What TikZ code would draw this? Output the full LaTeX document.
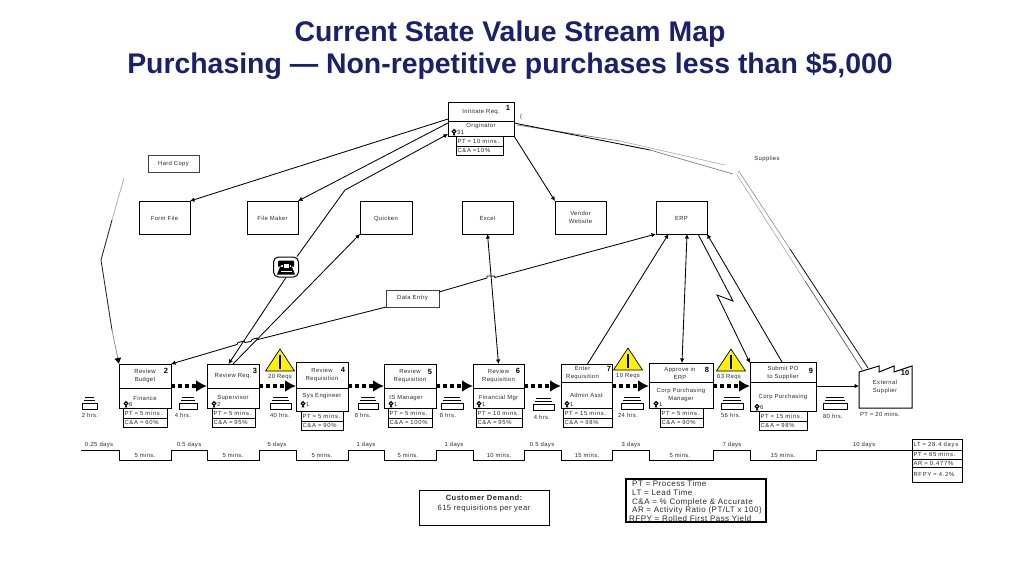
\documentclass[tikz,border=0pt]{standalone}
\usepackage{fontspec}
\setmainfont{Liberation Sans}
\newfontfamily\lbf[LetterSpace=6]{Liberation Sans}
\newfontfamily\ldf[LetterSpace=12]{Liberation Sans}
\newfontfamily\lgf[LetterSpace=6]{Liberation Sans}
\usetikzlibrary{arrows.meta}
\definecolor{navy}{HTML}{1B1F6E}
\definecolor{ink}{HTML}{2A2A2A}
\newcounter{tn}
\tikzset{
  boxst/.style={draw=black,line width=1pt,inner sep=0pt,outer sep=0pt,fill=white},
  thinbox/.style={boxst,draw=black!75,line width=0.7pt},
  lab/.style={font=\lbf\fontsize{5.9}{8}\selectfont,text=ink,align=center,inner sep=0pt},
  num/.style={font=\bfseries\fontsize{7.5}{8}\selectfont,inner sep=0pt},
  opnum/.style={font=\lbf\fontsize{5.9}{8}\selectfont,text=ink,inner sep=0pt},
  dat/.style={boxst,lab,align=left,font=\ldf\fontsize{5.9}{8}\selectfont},
  con/.style={draw=black,line width=0.85pt},
  tip/.style={-{Latex[length=4.5pt,width=4.5pt]}},
  dtip/.style={{Latex[length=4.5pt,width=4.5pt]}-{Latex[length=4.5pt,width=4.5pt]}},
  pushline/.style={draw=black,line width=3.4pt,dash pattern=on 3.6pt off 3.4pt,-{Latex[length=11pt,width=12pt]}},
  warn/.style={draw=black,line width=0.7pt,fill=yellow,line join=round},
  tl/.style={draw=black,line width=0.9pt}
}
% [options]{name}{x1}{y1}{x2}{y2}
\newcommand{\bx}[6][]{\node[boxst,#1,minimum width={(#5-#3)*1pt},minimum height={(#6-#4)*1pt}] (#2) at ({(#3+#5)/2},{(#4+#6)/2}) {};}
% {box}{dx}{dy}{text}
\newcommand{\lb}[4]{\node[lab,xshift=#2pt,yshift=-#3pt] (#1-l) at (#1.center) {#4};}
\newcommand{\tx}[3]{\stepcounter{tn}\node[lab] (t\arabic{tn}) at (#1,#2) {#3};}
\newcommand{\nm}[3]{\stepcounter{tn}\node[num] (t\arabic{tn}) at (#1,#2) {#3};}
% {name}{x1}{y1}{x2}{y2}{text}
\newcommand{\dt}[6]{\node[dat,text width={(#4-#2-3)*1pt},inner xsep=1.5pt,minimum height={(#5-#3)*1pt},inner ysep=0pt] (#1) at ({(#2+#4)/2},{(#3+#5)/2}) {#6};}
% operator icon {x}{y}{number}
\newcommand{\op}[3]{\draw[line width=1.2pt] (#1,#2-0.6) circle (1.8pt); \fill (#1-1.5,#2+3.4) -- (#1+1.5,#2+3.4) -- (#1,#2+1) -- cycle; \stepcounter{tn}\node[opnum,anchor=west] (t\arabic{tn}) at (#1+3,#2+0.5) {#3};}
% inventory {x1}{x2}{ytop}
\newcommand{\inv}[3]{\stepcounter{tn}\node[boxst,line width=0.8pt,minimum width={(#2-#1)*1pt},minimum height=6pt] (t\arabic{tn}) at ({(#1+#2)/2},#3+3) {}; \draw[line width=1pt] (#1+3,#3-6) -- (#2-3,#3-6) (#1+2,#3-3) -- (#2-2,#3-3);}
% warning {apex x}{apex y}
\newcommand{\wn}[2]{\draw[warn] (#1,#2) -- (#1+14.5,#2+22) -- (#1-14.5,#2+22) -- cycle; \draw[line width=1.4pt] (#1,#2+6) -- (#1,#2+20);}
\begin{document}
\begin{tikzpicture}[x=1pt,y=-1pt]
\useasboundingbox (0,0) rectangle (1024,576);
\fill[white] (0,0) rectangle (1024,576);
% title
\node[font=\bfseries\fontsize{28.4}{32}\selectfont,text=navy,align=center,inner sep=0pt] (title) at (510,50.5) {Current State Value Stream Map\\Purchasing — Non-repetitive purchases less than \$5,000};
\coordinate (pushy) at (0,386);
% tool boxes
\bx{ff}{139}{201}{190}{234} \lb{ff}{0}{1}{Form File}
\bx{fm}{247}{201}{298}{234} \lb{fm}{0}{1}{File Maker}
\bx{qk}{360}{201}{412}{234} \lb{qk}{0}{1}{Quicken}
\bx{xl}{462}{201}{513}{234} \lb{xl}{0}{1}{Excel}
\bx{vw}{555}{201}{606}{234} \lb{vw}{0}{0}{Vendor\\Website}
\bx{erp}{656}{201}{707}{234} \lb{erp}{0}{1}{ERP}
\bx[thinbox]{hc}{148}{155}{199}{172} \lb{hc}{0}{0}{Hard Copy}
\bx[thinbox]{de}{386}{290}{439}{307} \lb{de}{0}{0}{Data Entry}
% processes
\bx{p1t}{448}{102}{514}{121} \lb{p1t}{0}{0.5}{Inititate Req.}
\bx{p1b}{448}{121}{514}{136} \lb{p1b}{0}{-2.5}{Originator}
\dt{d1a}{456}{136}{503}{146}{PT = 10 mins.} \dt{d1b}{456}{146}{503}{155}{C\&A =10\%}
\bx{p2t}{119}{364}{171}{388} \lb{p2t}{0}{0}{Review\\Budget}
\bx{p2b}{119}{388}{171}{408} \lb{p2b}{0}{0}{Finance}
\dt{d2a}{123}{408}{167}{418}{PT = 5 mins.} \dt{d2b}{123}{418}{167}{427}{C\&A = 60\%}
\bx{p3t}{207}{364}{259}{388} \lb{p3t}{0}{0}{Review Req.}
\bx{p3b}{207}{388}{259}{408} \lb{p3b}{0}{0}{Supervisor}
\dt{d3a}{212}{408}{255}{418}{PT = 5 mins.} \dt{d3b}{212}{418}{255}{427}{C\&A = 95\%}
\bx{p4t}{296}{362}{348}{388} \lb{p4t}{0}{0}{Review\\Requisition}
\bx{p4b}{296}{388}{348}{411} \lb{p4b}{0}{-4}{Sys Engineer}
\dt{d4a}{301}{411}{343}{421}{PT = 5 mins.} \dt{d4b}{301}{421}{343}{430}{C\&A = 90\%}
\bx{p5t}{384}{364}{436}{388} \lb{p5t}{0}{0}{Review\\Requisition}
\bx{p5b}{384}{388}{436}{408} \lb{p5b}{-4}{0}{IS Manager}
\dt{d5a}{388}{408}{432}{418}{PT = 5 mins.} \dt{d5b}{388}{418}{432}{427}{C\&A = 100\%}
\bx{p6t}{473}{364}{524}{388} \lb{p6t}{0}{0}{Review\\Requisition}
\bx{p6b}{473}{388}{524}{408} \lb{p6b}{0}{0}{Financial Mgr}
\dt{d6a}{476}{408}{522}{418}{PT = 10 mins.} \dt{d6b}{476}{418}{522}{427}{C\&A = 95\%}
\bx{p7t}{561}{364}{612}{382} \lb{p7t}{-4}{0}{Enter\\Requisition}
\bx{p7b}{561}{382}{612}{408} \lb{p7b}{0}{0}{Admin Asst}
\dt{d7a}{563}{408}{612}{418}{PT = 15 mins.} \dt{d7b}{563}{418}{612}{427}{C\&A = 98\%}
\bx{p8t}{649}{363}{713}{382} \lb{p8t}{-1}{0.5}{Approve in\\ERP}
\bx{p8b}{649}{382}{713}{408} \lb{p8b}{0}{0}{Corp Purchasing\\Manager}
\dt{d8a}{660}{408}{703}{418}{PT = 5 mins.} \dt{d8b}{660}{418}{703}{427}{C\&A = 90\%}
\bx{p9t}{750}{362}{816}{382} \lb{p9t}{0}{1}{Submit PO\\to Supplier}
\bx{p9b}{750}{382}{816}{411} \lb{p9b}{0}{0}{Corp Purchasing}
\dt{d9a}{759}{411}{807}{421}{PT = 15 mins.} \dt{d9b}{759}{421}{807}{430}{C\&A = 98\%}
% factory
\draw[line width=1pt,line join=miter] (859,372) -- (879,366) -- (879,372) -- (894,366) -- (894,372) -- (912,366) -- (912,408) -- (859,408) -- cycle;
\node[lab] (fac) at (885,387) {External\\Supplier};
\coordinate (facL) at (859,386);
\coordinate (facA) at (868,368);
\coordinate (facB) at (863,371);
% numbers
\nm{508}{108}{1} \nm{166}{371}{2} \nm{255}{371}{3} \nm{343}{370}{4} \nm{430}{372}{5}
\nm{518}{371}{6} \nm{609}{369}{7} \nm{707}{370}{8} \nm{811}{371}{9} \nm{905}{373}{10}
% operators
\op{454}{132}{31} \op{126}{404}{6} \op{214}{404}{2} \op{303}{404}{1} \op{391}{404}{1}
\op{479}{404}{1} \op{567}{404}{1} \op{656}{404}{1} \op{757}{407}{6}
% push arrows
\draw[pushline] (p2t.east |- pushy) -- (p3t.west |- pushy);
\draw[pushline] (p3t.east |- pushy) -- (p4t.west |- pushy);
\draw[pushline] (p4t.east |- pushy) -- (p5t.west |- pushy);
\draw[pushline] (p5t.east |- pushy) -- (p6t.west |- pushy);
\draw[pushline] (p6t.east |- pushy) -- (p7t.west |- pushy);
\draw[pushline] (p7t.east |- pushy) -- (p8t.west |- pushy);
\draw[pushline] (p8t.east |- pushy) -- (p9t.west |- pushy);
\draw[con,tip] (p9b.east |- pushy) -- (facL);
% warnings
\wn{280}{349} \wn{628}{348} \wn{731}{349}
\tx{280}{377}{20 Reqs} \tx{628}{376}{10 Reqs} \tx{729}{377}{63 Reqs}
% inventory
\inv{82}{97}{403} \inv{179}{197}{403} \inv{270}{291}{403} \inv{358}{378}{403} \inv{441}{463}{403}
\inv{533}{554}{404} \inv{621}{643}{403} \inv{721}{743}{403} \inv{823}{847}{403}
\tx{90}{415}{2 hrs.} \tx{183}{415}{4 hrs.} \tx{280}{415}{40 hrs.} \tx{363}{415}{8 hrs.}
\tx{448}{415}{8 hrs.} \tx{542}{417}{4 hrs.} \tx{628}{415}{24 hrs.} \tx{731}{415}{56 hrs.} \tx{833}{416}{80 hrs.}
\tx{880}{414}{PT = 20 mins.}
% connectors
\draw[con,tip] ([yshift=-7.5]p1t.east -| p1t.west) -- (ff.north east);
\draw[con,tip] ([yshift=-2]p1t.south west) -- (fm.north east);
\coordinate (bend) at (345,190);
\node[draw=black,line width=1pt,rounded corners=5pt,minimum width=25pt,minimum height=20pt,inner sep=0pt,fill=white] (phone) at (286,267) {};
\draw[con,tip] ([xshift=-2]phone.north east) -- (bend) -- ([yshift=2]p1b.south west);
\draw[con,tip] (phone.south) -- ([xshift=-4.5]p3t.north);
\draw[con,tip] ([xshift=0]p3t.north) -- (qk.south west);
\draw[con,dtip] (xl.south) -- ([xshift=0]p6t.north);
\draw[con,tip] (p1b.south east) -- (vw.north west);
\draw[con,tip] ([xshift=1]p7t.north) -- ([xshift=-13]erp.south);
\draw[con,dtip] ([xshift=1]p8t.north) -- ([xshift=5.5]erp.south);
\draw[con,tip] ([xshift=-9]erp.south east) -- (733,301) -- (717,295) -- ([yshift=-1]p9t.north west);
\draw[con,tip] ([xshift=-1]p9t.north) -- (erp.south east);
% data entry links with jumps
\draw[con,tip] (de.south west) -- (258,339.5) -- (257,338) -- (252,339.5) -- (251,341.5) -- (245,342.5) -- (244,341) -- (238,342.5) -- (237,344.5) -- (p2t.north east);
\draw[con,tip] ([yshift=-2]de.north east) -- (487,278) -- (487,276) -- (494,276) -- (495,277.5) -- (erp.south west);
% hard copy
\coordinate (hcA) at (124,178);
\coordinate (hcM) at (112,220);
\coordinate (hcB) at (101,260);
\coordinate (hcC) at (112,330);
\draw[black!35,line width=0.7pt] (hcA) -- (hcM);
\draw[black!85,line width=0.85pt] (hcM) -- (hcB) -- (hcC);
\draw[black!50,line width=0.7pt,-{Latex[length=6pt,width=7pt,black]}] (hcC) -- (p2t.north west);
% supplies
\coordinate (s1) at (725,165);
\coordinate (s2) at (733,174);
\coordinate (s3) at (740,173);
\coordinate (s4) at (737,175);
\coordinate (m1) at (620,141);
\coordinate (m2) at (650,150);
\coordinate (m3) at (790,249);
\coordinate (m4) at (805,281);
\draw[black!55,line width=0.6pt] (m1) -- ([xshift=3,yshift=-4]p1t.south east);
\draw[black!35,line width=0.6pt] (m1) -- (s1);
\draw[black,line width=0.85pt] ([yshift=-2]p1b.north east) -- (m2);
\draw[black!50,line width=0.7pt] (m2) -- (s2);
\draw[black!45,line width=0.6pt] (s3) -- (m3);
\draw[black!90,line width=0.85pt] (m3) -- (facA);
\draw[black!35,line width=0.6pt] (s4) -- (m4);
\draw[black!65,line width=0.7pt] (m4) -- (facB);
\fill (739,172) circle (0.7pt);
\tx{767}{159}{Supplies}
\tx{521}{117}{(}
% phone glyph
\fill[rounded corners=1pt] (278,260.5) rectangle (294,265);
\fill (278,264) rectangle (281,266.5) (291,264) rectangle (294,266.5);
\fill (280,267) -- (292,267) -- (295,274.5) -- (277,274.5) -- cycle;
\fill[white] (283,263) rectangle (289,268.5);
\draw[line width=0.5pt] (283,263) rectangle (289,268.5);
\fill[white] (280.5,270.5) rectangle (291.5,271.5);
% timeline
\draw[tl] (81,450) -- (119,450) -- (119,460) -- (171,460) -- (171,450) -- (207,450) -- (207,460) -- (259,460) -- (259,450) -- (296,450) -- (296,460) -- (348,460) -- (348,450) -- (384,450) -- (384,460) -- (436,460) -- (436,450) -- (473,450) -- (473,460) -- (524,460) -- (524,450) -- (561,450) -- (561,460) -- (612,460) -- (612,450) -- (649,450) -- (649,460) -- (713,460) -- (713,450) -- (750,450) -- (750,460) -- (816,460) -- (816,450) -- (912,450);
\tx{99}{445}{0.25 days} \tx{189}{445}{0.5 days} \tx{277}{445}{5 days} \tx{366}{445}{1 days}
\tx{454}{445}{1 days} \tx{542}{445}{0.5 days} \tx{631}{445}{3 days} \tx{732}{445}{7 days} \tx{864}{445}{10 days}
\tx{145}{455}{5 mins.} \tx{233}{455}{5 mins.} \tx{322}{455}{5 mins.} \tx{408}{455}{5 mins.}
\tx{499}{455}{10 mins.} \tx{587}{455}{15 mins.} \tx{680}{455}{5 mins.} \tx{783}{455}{15 mins.}
% summary
\dt{s-lt}{912}{439}{962}{450}{LT = 28.4 days}
\dt{s-pt}{912}{450}{962}{459}{PT = 65 mins.}
\dt{s-ar}{912}{459}{962}{467}{AR = 0.477\%}
\dt{s-rf}{912}{467}{962}{482}{RFPY = 4.2\%}
% customer demand
\bx[line width=0.8pt]{cd}{419}{490}{549}{525}
\node[lab,font=\lbf\fontsize{7.6}{9.5}\selectfont] (cd-l) at (484,503.5) {{\bfseries Customer Demand:}\\615 requisitions per year};
% legend
\bx[line width=1.7pt]{lg}{626}{479}{766}{522}
\node[inner sep=0pt,align=left,anchor=north west,font=\lgf\fontsize{8}{8.8}\selectfont,text=ink] (lg-l) at (632,480.5) {PT = Process Time\\LT = Lead Time\\C\&A = \% Complete \& Accurate\\AR = Activity Ratio (PT/LT x 100)\\\hspace*{-3pt}RFPY = Rolled First Pass Yield};
\end{tikzpicture}
\end{document}
